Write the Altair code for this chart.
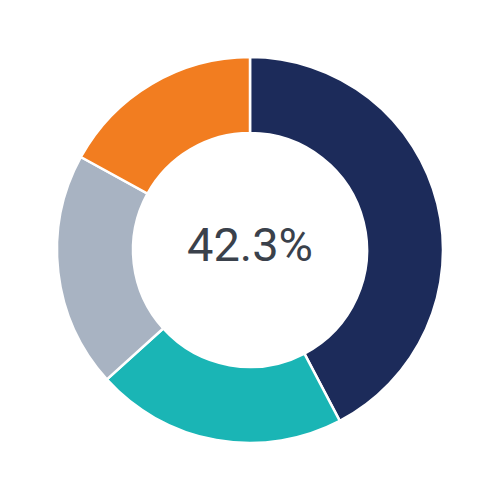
import altair as alt
import pandas as pd

categories = ["A", "B", "C", "D"]
shares = [42.3, 21.0, 19.7, 17.0]
colors = ["#1c2b5a", "#1ab5b5", "#a8b3c2", "#f27d20"]
center_label = "42.3%"

df = pd.DataFrame({"category": categories, "share": shares, "rank": range(len(categories))})

arcs = alt.Chart(df).mark_arc(
    innerRadius=117, outerRadius=193, stroke="white", strokeWidth=2.5
).encode(
    theta=alt.Theta("share:Q", stack=True),
    color=alt.Color("category:N", scale=alt.Scale(domain=categories, range=colors), legend=None),
    order=alt.Order("rank:Q"),
)

label = alt.Chart(pd.DataFrame({"t": [center_label]})).mark_text(
    font="Roboto", fontSize=47, fontWeight="normal", color="#3a414b", baseline="middle", align="center"
).encode(text="t:N", x=alt.value(242), y=alt.value(239))

chart = alt.layer(arcs, label).properties(
    width=484, height=484, padding=0, autosize=alt.AutoSizeParams(type="none")
).configure_view(stroke=None)

chart.save("out.html", embed_options={"renderer": "svg", "actions": False})
